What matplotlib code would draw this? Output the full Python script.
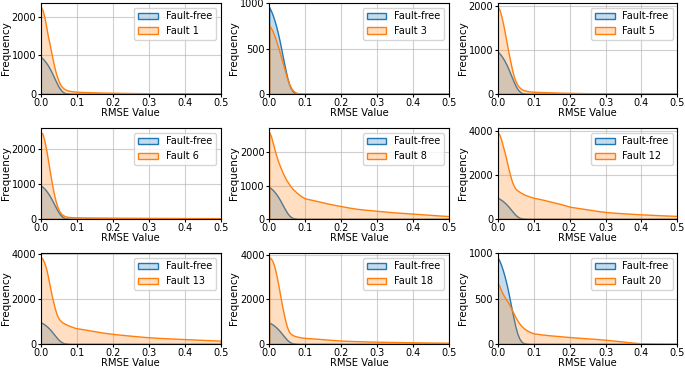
import numpy as np
import matplotlib
matplotlib.use("Agg")
import matplotlib.pyplot as plt
from matplotlib.ticker import MaxNLocator

# RMSE values where the frequencies were read: fine near zero, coarser in the tail
rmse = np.concatenate([np.arange(0, 0.1001, 0.005), np.arange(0.12, 0.5001, 0.02)])

fault_free = [960, 920, 870, 810, 740, 660, 570, 470, 370, 275,
              185, 115, 65, 33, 15, 7, 3, 1, 0, 0, 0,
              0, 0, 0, 0, 0, 0, 0, 0, 0, 0, 0, 0, 0, 0, 0, 0, 0, 0, 0, 0]

fault_names = ["Fault 1", "Fault 3", "Fault 5", "Fault 6", "Fault 8",
               "Fault 12", "Fault 13", "Fault 18", "Fault 20"]

fault1 = [2250, 2180, 2000, 1760, 1500, 1280, 1050, 820, 620, 460,
          330, 235, 175, 135, 108, 92, 82, 74, 67, 62, 58,
          50, 44, 38, 34, 31, 28, 25, 23, 21, 19, 17, 16, 15, 14, 13, 12, 11, 11, 10, 10]
fault3 = [760, 730, 690, 640, 580, 520, 450, 380, 310, 240,
          170, 115, 72, 44, 25, 14, 8, 4, 2, 1, 1,
          1, 1, 1, 1, 0, 0, 0, 0, 0, 0, 0, 0, 0, 0, 0, 0, 0, 0, 0, 0]
fault5 = [1970, 1920, 1780, 1600, 1390, 1170, 950, 750, 560, 400,
          290, 205, 155, 118, 96, 82, 71, 63, 57, 53, 50,
          44, 38, 33, 28, 25, 22, 19, 17, 15, 13, 12, 11, 10, 9, 8, 8, 7, 7, 6, 6]
fault6 = [2480, 2430, 2250, 2000, 1700, 1380, 1080, 800, 570, 390,
          260, 175, 125, 92, 72, 61, 56, 52, 50, 48, 47,
          45, 43, 41, 39, 38, 36, 35, 34, 33, 32, 31, 30, 29, 28, 27, 26, 26, 25, 25, 24]
fault8 = [2600, 2480, 2280, 2080, 1890, 1720, 1580, 1450, 1330, 1220,
          1130, 1050, 975, 905, 855, 805, 755, 715, 675, 645, 615,
          570, 520, 470, 425, 385, 345, 310, 285, 265, 245, 225, 205, 190, 175, 160, 145, 130, 115, 100, 88]
fault12 = [3950, 3830, 3600, 3300, 3000, 2650, 2300, 1980, 1700, 1500,
           1370, 1300, 1245, 1195, 1145, 1105, 1075, 1045, 1015, 990, 965,
           900, 820, 740, 660, 560, 510, 460, 410, 360, 320, 290, 268, 248, 228, 210, 195, 180, 165, 152, 140]
fault13 = [3850, 3780, 3600, 3350, 3000, 2600, 2200, 1850, 1540, 1290,
           1130, 1030, 965, 915, 875, 835, 805, 775, 745, 720, 700,
           650, 595, 540, 490, 450, 415, 385, 355, 325, 300, 280, 262, 248, 232, 218, 204, 190, 176, 162, 150]
fault18 = [3900, 3830, 3700, 3450, 3100, 2700, 2250, 1800, 1400, 1040,
           750, 560, 460, 405, 370, 345, 325, 308, 293, 283, 275,
           252, 228, 202, 178, 155, 140, 130, 120, 110, 104, 97, 92, 87, 82, 77, 72, 68, 64, 61, 58]
fault20 = [670, 640, 590, 550, 515, 485, 455, 415, 375, 335,
           295, 260, 230, 205, 185, 168, 155, 143, 133, 125, 118,
           107, 98, 91, 84, 77, 71, 65, 60, 54, 47, 39, 31, 22, 14, 7, 4, 2, 1, 0, 0]

faults = [fault1, fault3, fault5, fault6, fault8, fault12, fault13, fault18, fault20]

blue = "tab:blue"
orange = "tab:orange"

fig, axes = plt.subplots(3, 3, figsize=(6.85, 3.68), dpi=100)
fig.subplots_adjust(left=0.0594, right=0.989, top=0.9927, bottom=0.0652,
                    wspace=0.27, hspace=0.37)

for ax, name, counts in zip(axes.flat, fault_names, faults):
    ax.fill_between(rmse, fault_free, facecolor=matplotlib.colors.to_rgba(blue, 0.25),
                    edgecolor=blue, linewidth=1, label="Fault-free")
    ax.fill_between(rmse, counts, facecolor=matplotlib.colors.to_rgba(orange, 0.25),
                    edgecolor=orange, linewidth=1, label=name)
    ax.set_xlim(0, 0.5)
    ax.set_ylim(0, max(max(counts), max(fault_free)) * 1.05)
    ax.set_xticks([0, 0.1, 0.2, 0.3, 0.4, 0.5])
    ax.yaxis.set_major_locator(MaxNLocator(nbins=3, steps=[1, 2, 5, 10]))
    ax.grid(True, color='#b0b0b0', alpha=0.6, linewidth=0.8)
    ax.set_axisbelow(True)
    ax.set_xlabel("RMSE Value", fontsize=7.2, labelpad=0)
    ax.set_ylabel("Frequency", fontsize=7.5, labelpad=0.5)
    ax.tick_params(labelsize=7, length=2, pad=1.2)
    ax.legend(loc='upper right', fontsize=7)

fig.savefig("out.png")
